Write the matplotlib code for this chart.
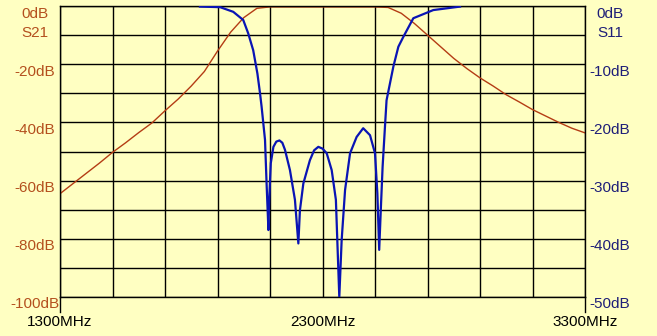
import numpy as np
import matplotlib
matplotlib.use("Agg")
import matplotlib.pyplot as plt
from matplotlib import transforms
######################################
# S21 (left axis, dB)
s21_freq = [1300, 1350, 1400, 1450, 1500, 1550, 1600, 1650, 1700, 1750,
            1800, 1850, 1900, 1950, 2000, 2050, 2100, 2150, 2200, 2250,
            2300, 2350, 2400, 2450, 2500, 2550, 2600, 2650, 2700, 2750,
            2800, 2850, 2900, 2950, 3000, 3050, 3100, 3150, 3200, 3250, 3300]
s21_db   = [-64.5, -61.0, -57.5, -54.0, -50.3, -47.0, -43.5, -40.2, -36.0, -32.0,
            -27.5, -22.5, -15.5, -9.0, -4.0, -0.8, -0.3, -0.3, -0.3, -0.3,
            -0.3, -0.3, -0.3, -0.3, -0.3, -0.5, -2.5, -6.0, -10.0, -14.0,
            -18.0, -21.5, -24.7, -27.5, -30.5, -33.0, -35.6, -37.8, -40.0, -42.0, -43.6]

# S11 (right axis, dB)
s11_freq = [1833, 1910, 1960, 1998, 2017, 2036, 2052, 2062, 2068, 2081, 2087, 2094,
            2097, 2103, 2113, 2124, 2136, 2147, 2157, 2176, 2195, 2208,
            2214, 2227, 2252, 2268, 2284, 2300, 2316, 2335, 2351, 2364,
            2373, 2386, 2405, 2430, 2455, 2481, 2500, 2509, 2516,
            2522, 2529, 2538, 2544, 2570, 2589, 2608, 2646, 2722, 2824]
s11_db   = [-0.1, -0.2, -1.0, -2.4, -4.7, -7.6, -11.6, -15.0, -17.3, -23.0, -30.5, -38.5,
            -33.3, -27.0, -24.2, -23.3, -23.1, -23.5, -24.7, -28.2, -33.3, -40.8,
            -35.1, -30.5, -26.5, -24.8, -24.2, -24.5, -25.3, -28.2, -33.3, -50.0,
            -40.2, -31.6, -25.3, -22.5, -21.0, -22.2, -25.3, -32.2, -41.9,
            -35.1, -27.6, -20.7, -16.2, -10.4, -7.0, -5.3, -2.1, -0.7, -0.1]

left_ticks   = [0, -20, -40, -60, -80, -100]
left_labels  = ["0dB", "-20dB", "-40dB", "-60dB", "-80dB", "-100dB"]
right_ticks  = [0, -10, -20, -30, -40, -50]
right_labels = ["0dB", "-10dB", "-20dB", "-30dB", "-40dB", "-50dB"]
x_ticks      = [1300, 2300, 3300]
x_labels     = ["1300MHz", "2300MHz", "3300MHz"]
######################################
bg      = "#FFFFC2"
c_s21   = "#B43C14"
c_s21t  = "#B4501E"
c_s11   = "#0A14B4"
c_s11t  = "#1E1E78"
fs      = 11
plt.rcParams['font.family'] = ['Liberation Sans', 'DejaVu Sans']

fig = plt.figure(figsize=(6.57, 3.36), dpi=100, facecolor=bg)
ax = fig.add_axes([60/657, 39/336, 525/657, 291/336])
ax.set_facecolor(bg)
ax.set_xlim(1300, 3300)
ax.set_ylim(-100, 0)
ax.set_xticks(np.arange(1300, 3301, 200))
ax.set_yticks(np.arange(-100, 1, 10))
ax.grid(True, color="black", linewidth=1.0)
ax.tick_params(length=0, labelbottom=False, labelleft=False)
for s in ax.spines.values():
    s.set_linewidth(1.0)
ax.plot(s21_freq, s21_db, color=c_s21, linewidth=1.0)

ax2 = ax.twinx()
ax2.set_ylim(-50, 0)
ax2.set_yticks([])
ax2.tick_params(length=0)
for s in ax2.spines.values():
    s.set_visible(False)
ax2.plot(s11_freq, s11_db, color=c_s11, linewidth=1.6)

# axis labels placed just below each grid line
off = transforms.ScaledTranslation(0, -7.5/100, fig.dpi_scale_trans)
tr_l = transforms.blended_transform_factory(fig.transFigure, ax.transData) + off
tr_r = transforms.blended_transform_factory(fig.transFigure, ax2.transData) + off
for v, t in zip(left_ticks, left_labels):
    ax.text(34.5/657, v, t, transform=tr_l, ha="center", va="center", fontsize=fs, color=c_s21t)
ax.text(34.5/657, -6.8, "S21", transform=tr_l, ha="center", va="center", fontsize=fs, color=c_s21t)
for v, t in zip(right_ticks, right_labels):
    ax2.text(610/657, v, t, transform=tr_r, ha="center", va="center", fontsize=fs, color=c_s11t)
ax2.text(610/657, -3.4, "S11", transform=tr_r, ha="center", va="center", fontsize=fs, color=c_s11t)

xoff = transforms.ScaledTranslation(0, -25/100, fig.dpi_scale_trans)
tr_x = transforms.blended_transform_factory(ax.transData, ax.transAxes) + xoff
for v, t in zip(x_ticks, x_labels):
    ax.text(v, 0, t, transform=tr_x, ha="center", va="center", fontsize=fs, color="black")

# left/right axis lines run a little past the bottom
ax.plot([0, 0], [0, -15/291], transform=ax.transAxes, color="black", linewidth=1.0, clip_on=False)
ax.plot([1, 1], [0, -15/291], transform=ax.transAxes, color="black", linewidth=1.0, clip_on=False)

fig.savefig("out.png", dpi=100, facecolor=bg)
